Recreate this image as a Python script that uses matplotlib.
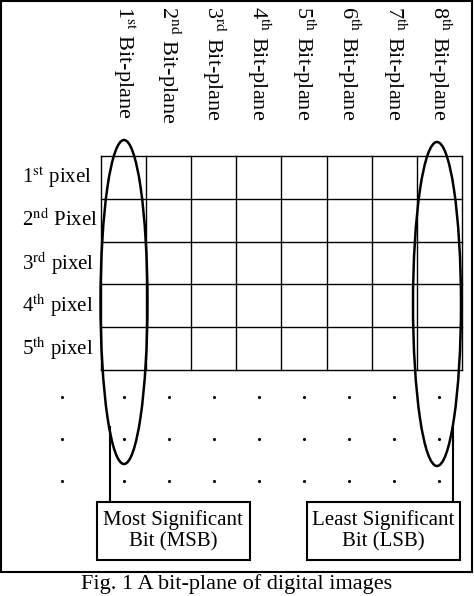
import matplotlib.pyplot as plt
from matplotlib.patches import Ellipse, Rectangle

plt.rcParams['font.family'] = ['Liberation Serif', 'DejaVu Serif']
plt.rcParams['mathtext.fontset'] = 'stix'

planes = ['1', '2', '3', '4', '5', '6', '7', '8']
plane_sup = ['st', 'nd', 'rd', 'th', 'th', 'th', 'th', 'th']
pixels = ['1', '2', '3', '4', '5']
pixel_sup = ['st', 'nd', 'rd', 'th', 'th']
pixel_word = ['pixel', 'Pixel', 'pixel', 'pixel', 'pixel']
n_dot_rows = 3

fig = plt.figure(figsize=(4.74, 5.96), dpi=100)
ax = fig.add_axes([0, 0, 1, 1])
ax.set_xlim(0, 474)
ax.set_ylim(596, 0)
ax.axis('off')

x0, x1 = 101, 462
y0, y1 = 156, 370
cw = (x1 - x0) / len(planes)
rh = (y1 - y0) / len(pixels)

# grid
for i in range(len(planes) + 1):
    ax.plot([x0 + i * cw] * 2, [y0, y1], color='k', lw=1)
for j in range(len(pixels) + 1):
    ax.plot([x0, x1], [y0 + j * rh] * 2, color='k', lw=1)

# column labels (rotated)
for i, (p, s) in enumerate(zip(planes, plane_sup)):
    ax.text(x0 + (i + 0.5) * cw, 6, r'%s$^{\mathrm{%s}}$ Bit-plane' % (p, s),
            rotation=270, ha='center', va='top', fontsize=16)

# row labels
for j, (p, s, w) in enumerate(zip(pixels, pixel_sup, pixel_word)):
    ax.text(22, y0 + (j + 0.5) * rh, r'%s$^{\mathrm{%s}}$ %s' % (p, s, w),
            ha='left', va='center', fontsize=15)

# dots
for k in range(n_dot_rows):
    yy = 397 + k * 42
    ax.plot([62], [yy], 'k.', ms=2.5)
    for i in range(len(planes)):
        ax.plot([x0 + (i + 0.5) * cw], [yy], 'k.', ms=2.5)

# ellipses
ax.add_patch(Ellipse((124, 302), 47, 324, fill=False, lw=1.8, ec='k'))
ax.add_patch(Ellipse((437, 304), 48, 324, fill=False, lw=1.8, ec='k'))

# connectors and boxes
ax.plot([110, 110], [427, 502], color='k', lw=1.5)
ax.plot([453, 453], [427, 502], color='k', lw=1.5)
ax.add_patch(Rectangle((97, 502), 153, 58, fill=False, lw=1.5, ec='k'))
ax.add_patch(Rectangle((307, 502), 153, 58, fill=False, lw=1.5, ec='k'))
ax.text(173, 531, 'Most Significant\nBit (MSB)', ha='center', va='center',
        fontsize=15, linespacing=1.15)
ax.text(383, 531, 'Least Significant\nBit (LSB)', ha='center', va='center',
        fontsize=15, linespacing=1.15)

# outer frame and caption
ax.add_patch(Rectangle((1, 1), 471, 571, fill=False, lw=1.5, ec='k'))
ax.text(237, 584, 'Fig. 1 A bit-plane of digital images', ha='center',
        va='center', fontsize=16)

fig.savefig('out.png', dpi=100)
